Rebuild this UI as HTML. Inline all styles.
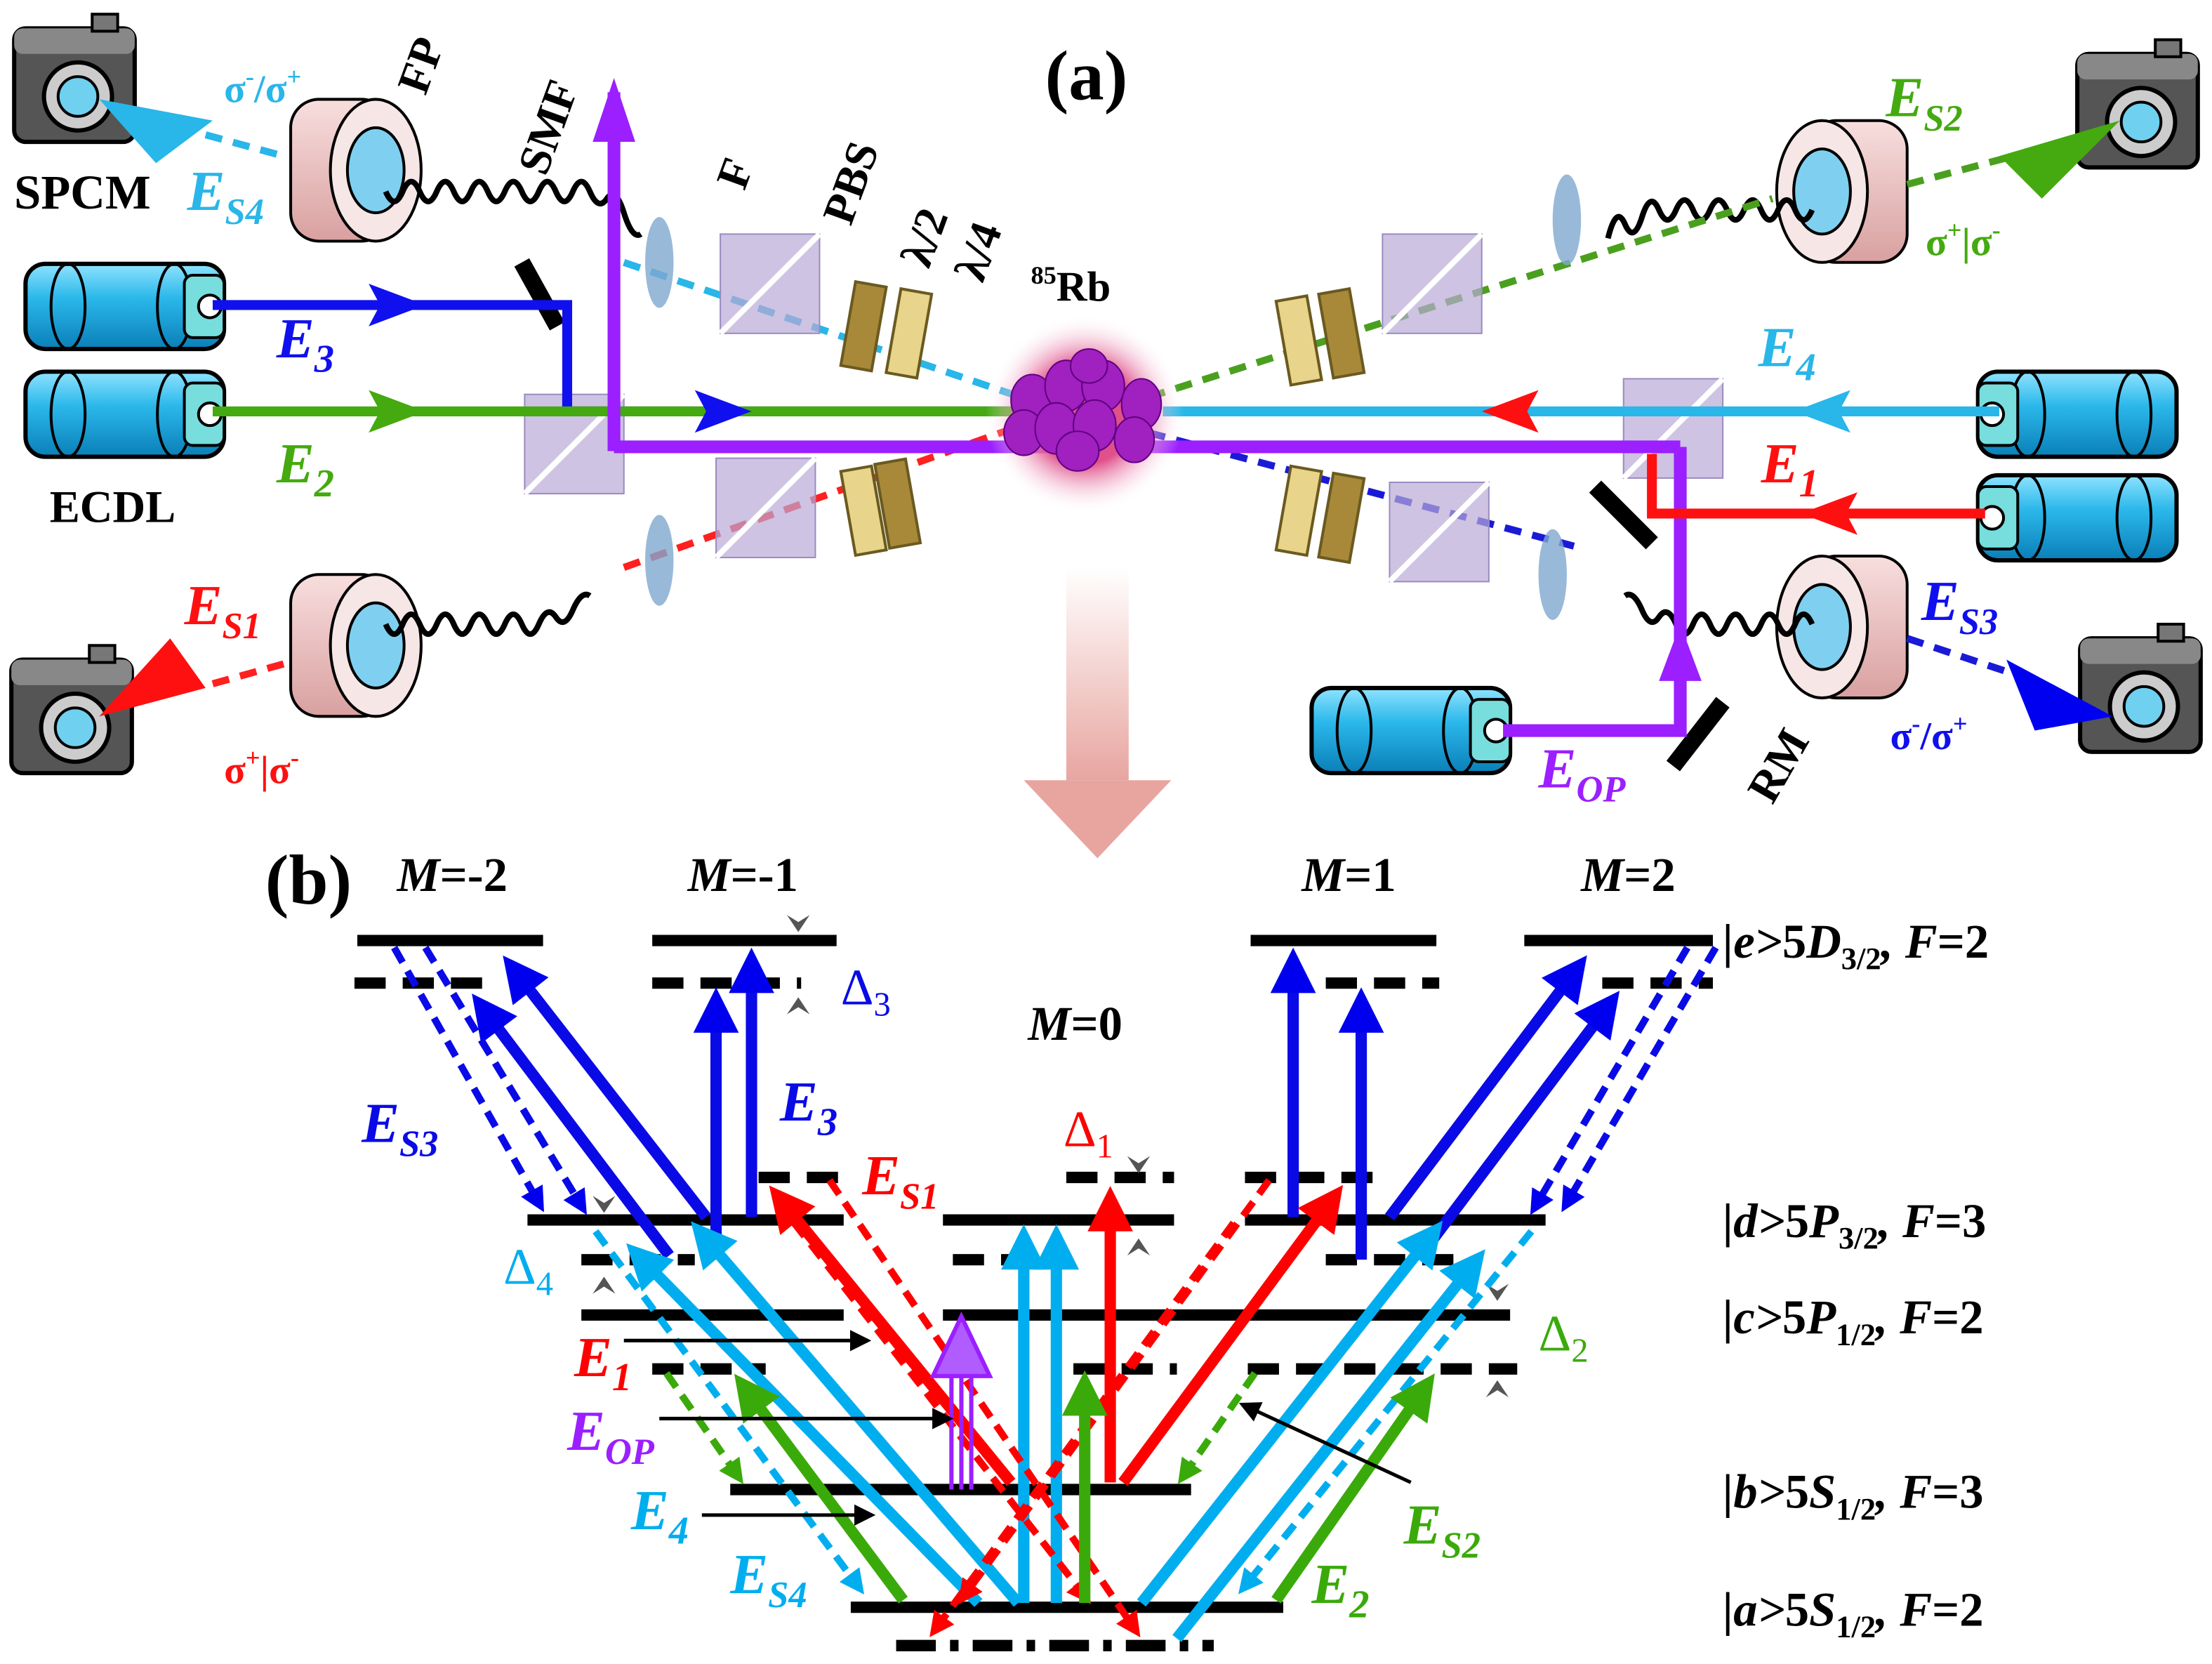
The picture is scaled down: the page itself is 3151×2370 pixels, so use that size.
<!DOCTYPE html>
<html><head><meta charset="utf-8"><style>
html,body{margin:0;padding:0;background:#fff;}
svg{display:block;}
text{font-family:"Liberation Serif",serif;font-weight:bold;}
</style></head><body>
<svg width="3151" height="2370" viewBox="0 0 1560 1173" preserveAspectRatio="none" xmlns="http://www.w3.org/2000/svg">
<defs>
<marker id="ab" markerWidth="4" markerHeight="4" refX="2.5" refY="2" orient="auto" markerUnits="strokeWidth"><path d="M0,0 L4,2 L0,4 Z" fill="#0000ee"/></marker>
<marker id="ac" markerWidth="4" markerHeight="4" refX="2.5" refY="2" orient="auto" markerUnits="strokeWidth"><path d="M0,0 L4,2 L0,4 Z" fill="#00aeef"/></marker>
<marker id="ar" markerWidth="4" markerHeight="4" refX="2.5" refY="2" orient="auto" markerUnits="strokeWidth"><path d="M0,0 L4,2 L0,4 Z" fill="#ff0000"/></marker>
<marker id="ag" markerWidth="4" markerHeight="4" refX="2.5" refY="2" orient="auto" markerUnits="strokeWidth"><path d="M0,0 L4,2 L0,4 Z" fill="#3aaa0a"/></marker>
<marker id="ak" markerWidth="6" markerHeight="6" refX="5" refY="3" orient="auto" markerUnits="strokeWidth"><path d="M0,0 L6,3 L0,6 Z" fill="#000"/></marker>
<marker id="abd" markerWidth="3.5" markerHeight="3.5" refX="2" refY="1.75" orient="auto" markerUnits="strokeWidth"><path d="M0,0 L3.5,1.75 L0,3.5 Z" fill="#0000ee"/></marker>
<marker id="acd" markerWidth="3.5" markerHeight="3.5" refX="2" refY="1.75" orient="auto" markerUnits="strokeWidth"><path d="M0,0 L3.5,1.75 L0,3.5 Z" fill="#00aeef"/></marker>
<marker id="ard" markerWidth="3.5" markerHeight="3.5" refX="2" refY="1.75" orient="auto" markerUnits="strokeWidth"><path d="M0,0 L3.5,1.75 L0,3.5 Z" fill="#ff0000"/></marker>
<marker id="agd" markerWidth="3.5" markerHeight="3.5" refX="2" refY="1.75" orient="auto" markerUnits="strokeWidth"><path d="M0,0 L3.5,1.75 L0,3.5 Z" fill="#3aaa0a"/></marker>
<linearGradient id="cyl" x1="0" y1="0" x2="0" y2="1"><stop offset="0" stop-color="#8fe3ff"/><stop offset=".4" stop-color="#2bb8ea"/><stop offset="1" stop-color="#0a7fb8"/></linearGradient>
<linearGradient id="fp" x1="0" y1="0" x2="0" y2="1"><stop offset="0" stop-color="#f8dede"/><stop offset="1" stop-color="#d9a0a0"/></linearGradient>
<linearGradient id="pk" x1="0" y1="0" x2="0" y2="1"><stop offset="0" stop-color="#fff"/><stop offset="1" stop-color="#e8a5a0"/></linearGradient>
<radialGradient id="glow"><stop offset="0.5" stop-color="#e0508a"/><stop offset="1" stop-color="#fff" stop-opacity="0"/></radialGradient>
<g id="cam"><rect x="0" y="10" width="85" height="80" rx="8" fill="#555" stroke="#000" stroke-width="3"/><rect x="0" y="10" width="85" height="18" rx="6" fill="#888"/><circle cx="45" cy="58" r="24" fill="#ccc" stroke="#000" stroke-width="3"/><circle cx="45" cy="58" r="14" fill="#6fd0f0" stroke="#000" stroke-width="2"/><rect x="55" y="0" width="18" height="12" fill="#777" stroke="#000" stroke-width="2"/></g>
<g id="laser"><rect x="0" y="0" width="140" height="60" rx="14" fill="url(#cyl)" stroke="#000" stroke-width="3"/><ellipse cx="30" cy="30" rx="12" ry="30" fill="none" stroke="#000" stroke-width="2"/><ellipse cx="105" cy="30" rx="12" ry="30" fill="none" stroke="#000" stroke-width="2"/><rect x="112" y="8" width="28" height="44" rx="6" fill="#7dd" stroke="#000" stroke-width="2"/><circle cx="130" cy="30" r="8" fill="#fff" stroke="#000" stroke-width="2"/></g>
<g id="fpc"><rect x="0" y="0" width="70" height="100" rx="20" fill="url(#fp)" stroke="#000" stroke-width="2"/><ellipse cx="60" cy="50" rx="32" ry="50" fill="#f6e6e6" stroke="#000" stroke-width="2"/><ellipse cx="60" cy="50" rx="20" ry="30" fill="#7fd0f0" stroke="#000" stroke-width="2"/></g>
<g id="cube"><rect x="0" y="0" width="70" height="70" fill="#b9a9d6" fill-opacity=".7" stroke="#9a8cc0"/><line x1="0" y1="70" x2="70" y2="0" stroke="#fff" stroke-width="4"/></g>
</defs>

<text x="737" y="70" font-size="50">(a)</text>
<use href="#cam" x="10" y="10"/>
<use href="#cam" x="8" y="455"/>
<use href="#cam" x="1465" y="28"/>
<use href="#cam" x="1467" y="440"/>
<text x="10" y="147" font-size="34">SPCM</text>
<text x="35" y="368" font-size="32">ECDL</text>

<use href="#laser" x="18" y="186"/>
<use href="#laser" x="18" y="262"/>
<use href="#laser" transform="translate(1535,262) scale(-1,1)"/>
<use href="#laser" transform="translate(1535,335) scale(-1,1)"/>
<use href="#laser" x="925" y="485"/>

<use href="#fpc" x="205" y="70"/>
<use href="#fpc" x="205" y="405"/>
<use href="#fpc" transform="translate(1345,85) scale(-1,1)"/>
<use href="#fpc" transform="translate(1345,392) scale(-1,1)"/>

<g fill="none" stroke="#000" stroke-width="4">
<path d="M272,135 q6,14 12,0 t12,0 t12,0 t12,0 t12,0 t12,0 t12,0 t12,0 t12,0 t12,0 t12,0 t12,0 t12,5 t12,10 t12,15"/>
<path d="M272,440 q6,14 12,0 t12,0 t12,0 t12,0 t12,0 t12,0 t12,0 t12,0 t12,0 t12,-5 t12,-5 t12,-10"/>
<path d="M1278,148 q-6,14 -12,0 t-12,0 t-12,0 t-12,0 t-12,0 t-12,0 t-12,0 t-12,0 t-12,0 t-12,5 t-12,5 t-12,10"/>
<path d="M1278,440 q-6,-14 -12,0 t-12,0 t-12,0 t-12,0 t-12,0 t-12,0 t-12,0 t-12,0 t-12,-5 t-12,-5 t-12,-10"/>
</g>

<g fill="none" stroke-width="5" stroke-dasharray="12,8">
<line x1="440" y1="185" x2="720" y2="280" stroke="#29b6e8"/>
<line x1="810" y1="280" x2="1250" y2="140" stroke="#4aa01e"/>
<line x1="440" y1="400" x2="720" y2="300" stroke="#ff2020"/>
<line x1="810" y1="305" x2="1110" y2="385" stroke="#1a1ad6"/>
<line x1="145" y1="95" x2="200" y2="110" stroke="#29b6e8"/>
<line x1="1345" y1="130" x2="1420" y2="110" stroke="#4aa01e"/>
<line x1="150" y1="482" x2="200" y2="468" stroke="#ff2020"/>
<line x1="1345" y1="450" x2="1420" y2="475" stroke="#1a1ad6"/>
</g>
<path d="M150,85 L70,70 L110,115 Z" fill="#29b6e8"/>
<path d="M1410,110 L1495,85 L1440,140 Z" fill="#44aa0f"/>
<path d="M145,485 L70,505 L120,450 Z" fill="#ff1010"/>
<path d="M1415,465 L1490,505 L1435,515 Z" fill="#0000f0"/>

<g fill="#7fa7cf" fill-opacity=".8">
<ellipse cx="465" cy="185" rx="10" ry="32"/>
<ellipse cx="465" cy="395" rx="10" ry="32"/>
<ellipse cx="1105" cy="155" rx="10" ry="32"/>
<ellipse cx="1095" cy="405" rx="10" ry="32"/>
</g>
<use href="#cube" x="508" y="165"/>
<use href="#cube" x="505" y="323"/>
<use href="#cube" x="975" y="165"/>
<use href="#cube" x="980" y="340"/>
<use href="#cube" x="370" y="278"/>
<use href="#cube" x="1145" y="267"/>
<g stroke="#6b5a20" stroke-width="2">
<rect x="598" y="200" width="22" height="60" fill="#a8893a" transform="rotate(10 609 230)"/>
<rect x="630" y="205" width="22" height="60" fill="#e8d48a" transform="rotate(10 641 235)"/>
<rect x="598" y="330" width="22" height="60" fill="#e8d48a" transform="rotate(-10 609 360)"/>
<rect x="622" y="325" width="22" height="60" fill="#a8893a" transform="rotate(-10 633 355)"/>
<rect x="905" y="210" width="22" height="60" fill="#e8d48a" transform="rotate(-10 916 240)"/>
<rect x="935" y="205" width="22" height="60" fill="#a8893a" transform="rotate(-10 946 235)"/>
<rect x="905" y="330" width="22" height="60" fill="#e8d48a" transform="rotate(10 916 360)"/>
<rect x="935" y="335" width="22" height="60" fill="#a8893a" transform="rotate(10 946 365)"/>
</g>
<g stroke="#000" stroke-width="12">
<line x1="368" y1="185" x2="393" y2="230"/>
<line x1="1125" y1="343" x2="1165" y2="383"/>
<line x1="1180" y1="540" x2="1215" y2="495"/>
</g>

<g fill="none" stroke-width="7">
<polyline points="150,215 400,215 400,290" stroke="#1010ee"/>
<line x1="400" y1="290" x2="720" y2="290" stroke="#1010ee"/>
<line x1="150" y1="290" x2="720" y2="290" stroke="#44aa0f"/>
<line x1="433" y1="65" x2="433" y2="318" stroke="#9b1fff" stroke-width="9"/>
<line x1="433" y1="315" x2="1185" y2="315" stroke="#9b1fff" stroke-width="9"/>
<polyline points="1060,515 1185,515 1185,315" stroke="#9b1fff" stroke-width="9"/>
<line x1="1410" y1="290" x2="820" y2="290" stroke="#29b6e8"/>
<polyline points="1400,362 1165,362 1165,320" stroke="#ff1010"/>
</g>
<path d="M433,55 L418,100 L448,100 Z" fill="#9b1fff"/>
<path d="M1185,440 L1170,480 L1200,480 Z" fill="#9b1fff"/>
<path d="M300,215 L260,200 L268,215 L260,230 Z" fill="#1010ee"/>
<path d="M300,290 L260,275 L268,290 L260,305 Z" fill="#44aa0f"/>
<path d="M530,290 L490,275 L498,290 L490,305 Z" fill="#1010ee"/>
<path d="M1265,290 L1305,275 L1297,290 L1305,305 Z" fill="#29b6e8"/>
<path d="M1270,362 L1310,347 L1302,362 L1310,377 Z" fill="#ff1010"/>
<path d="M1045,290 L1085,275 L1077,290 L1085,305 Z" fill="#ff1010"/>

<circle cx="765" cy="292" r="70" fill="url(#glow)"/>
<g fill="#a020c0" stroke="#600080" stroke-width="1">
<ellipse cx="728" cy="282" rx="15" ry="18"/><ellipse cx="752" cy="272" rx="15" ry="18"/><ellipse cx="778" cy="272" rx="15" ry="18"/><ellipse cx="805" cy="285" rx="14" ry="18"/>
<ellipse cx="722" cy="305" rx="14" ry="16"/><ellipse cx="745" cy="302" rx="15" ry="18"/><ellipse cx="772" cy="300" rx="15" ry="18"/><ellipse cx="800" cy="310" rx="14" ry="16"/>
<ellipse cx="760" cy="318" rx="15" ry="14"/><ellipse cx="768" cy="258" rx="13" ry="12"/>
</g>
<text x="727" y="212" font-size="30"><tspan font-size="18" dy="-12">85</tspan><tspan dy="12">Rb</tspan></text>

<rect x="752" y="400" width="44" height="150" fill="url(#pk)"/>
<path d="M722,550 L826,550 L774,605 Z" fill="#e8a5a0"/>

<g font-size="32">
<text transform="translate(300,68) rotate(-70)">FP</text>
<text transform="translate(385,125) rotate(-70)">SMF</text>
<text transform="translate(525,135) rotate(-70)">F</text>
<text transform="translate(600,160) rotate(-70)">PBS</text>
<text transform="translate(655,190) rotate(-70)">λ/2</text>
<text transform="translate(693,200) rotate(-70)">λ/4</text>
<text transform="translate(1250,568) rotate(-60)">RM</text>
</g>
<g font-style="italic" font-size="40">
<text x="195" y="252" fill="#1010ee">E<tspan font-size="28" dy="10">3</tspan></text>
<text x="195" y="340" fill="#44aa0f">E<tspan font-size="28" dy="10">2</tspan></text>
<text x="1240" y="258" fill="#29b6e8">E<tspan font-size="28" dy="10">4</tspan></text>
<text x="1242" y="340" fill="#ff1010">E<tspan font-size="28" dy="10">1</tspan></text>
<text x="1085" y="555" fill="#9b1fff">E<tspan font-size="26" dy="10">OP</tspan></text>
<text x="132" y="148" fill="#29b6e8">E<tspan font-size="26" dy="10">S4</tspan></text>
<text x="1330" y="82" fill="#44aa0f">E<tspan font-size="26" dy="10">S2</tspan></text>
<text x="130" y="440" fill="#ff1010">E<tspan font-size="26" dy="10">S1</tspan></text>
<text x="1355" y="437" fill="#1010ee">E<tspan font-size="26" dy="10">S3</tspan></text>
</g>
<g font-size="28">
<text x="158" y="72" fill="#29b6e8">σ<tspan font-size="18" dy="-12">-</tspan><tspan dy="12">/σ</tspan><tspan font-size="18" dy="-12">+</tspan></text>
<text x="1358" y="180" fill="#44aa0f">σ<tspan font-size="18" dy="-12">+</tspan><tspan dy="12">|σ</tspan><tspan font-size="18" dy="-12">-</tspan></text>
<text x="158" y="552" fill="#ff1010">σ<tspan font-size="18" dy="-12">+</tspan><tspan dy="12">|σ</tspan><tspan font-size="18" dy="-12">-</tspan></text>
<text x="1333" y="528" fill="#1010ee">σ<tspan font-size="18" dy="-12">-</tspan><tspan dy="12">/σ</tspan><tspan font-size="18" dy="-12">+</tspan></text>
</g>

<text x="187" y="637" font-size="50">(b)</text>
<g font-size="34" font-style="italic">
<text x="280" y="628">M<tspan font-style="normal">=-2</tspan></text>
<text x="485" y="628">M<tspan font-style="normal">=-1</tspan></text>
<text x="918" y="628">M<tspan font-style="normal">=1</tspan></text>
<text x="1115" y="628">M<tspan font-style="normal">=2</tspan></text>
<text x="725" y="733">M<tspan font-style="normal">=0</tspan></text>
</g>
<g font-size="34" font-style="italic">
<text x="1215" y="675">|e&gt;<tspan font-style="normal">5</tspan>D<tspan font-size="22" dy="8" font-style="normal">3/2</tspan><tspan dy="-8">, F</tspan><tspan font-style="normal">=2</tspan></text>
<text x="1215" y="872">|d&gt;<tspan font-style="normal">5</tspan>P<tspan font-size="22" dy="8" font-style="normal">3/2</tspan><tspan dy="-8">, F</tspan><tspan font-style="normal">=3</tspan></text>
<text x="1215" y="940">|c&gt;<tspan font-style="normal">5</tspan>P<tspan font-size="22" dy="8" font-style="normal">1/2</tspan><tspan dy="-8">, F</tspan><tspan font-style="normal">=2</tspan></text>
<text x="1215" y="1063">|b&gt;<tspan font-style="normal">5</tspan>S<tspan font-size="22" dy="8" font-style="normal">1/2</tspan><tspan dy="-8">, F</tspan><tspan font-style="normal">=3</tspan></text>
<text x="1215" y="1146">|a&gt;<tspan font-style="normal">5</tspan>S<tspan font-size="22" dy="8" font-style="normal">1/2</tspan><tspan dy="-8">, F</tspan><tspan font-style="normal">=2</tspan></text>
</g>

<g stroke="#000" stroke-width="8">
<line x1="252" y1="663" x2="383" y2="663"/><line x1="460" y1="663" x2="590" y2="663"/>
<line x1="882" y1="663" x2="1013" y2="663"/><line x1="1075" y1="663" x2="1208" y2="663"/>
<line x1="372" y1="860" x2="595" y2="860"/><line x1="665" y1="860" x2="828" y2="860"/><line x1="878" y1="860" x2="1090" y2="860"/>
<line x1="410" y1="927" x2="595" y2="927"/><line x1="665" y1="927" x2="1065" y2="927"/>
<line x1="515" y1="1050" x2="840" y2="1050"/>
<line x1="600" y1="1133" x2="905" y2="1133"/>
</g>
<g stroke="#000" stroke-width="8" stroke-dasharray="22,12">
<line x1="250" y1="693" x2="345" y2="693"/><line x1="460" y1="693" x2="565" y2="693"/>
<line x1="935" y1="693" x2="1015" y2="693"/><line x1="1130" y1="693" x2="1208" y2="693"/>
<line x1="535" y1="830" x2="600" y2="830"/><line x1="752" y1="830" x2="828" y2="830"/><line x1="878" y1="830" x2="975" y2="830"/>
<line x1="410" y1="888" x2="490" y2="888"/><line x1="672" y1="888" x2="745" y2="888"/><line x1="935" y1="888" x2="1035" y2="888"/>
<line x1="460" y1="965" x2="540" y2="965"/><line x1="757" y1="965" x2="830" y2="965"/><line x1="880" y1="965" x2="1070" y2="965"/>
</g>
<g stroke="#000" stroke-width="8" stroke-dasharray="28,10,6,10">
<line x1="632" y1="1160" x2="856" y2="1160"/>
</g>

<g fill="#555">
<path d="M555,645 l8,12 l8,-12 l-8,5 z"/><path d="M555,715 l8,-12 l8,12 l-8,-5 z"/>
<path d="M795,815 l8,12 l8,-12 l-8,5 z"/><path d="M795,885 l8,-12 l8,12 l-8,-5 z"/>
<path d="M418,843 l8,12 l8,-12 l-8,5 z"/><path d="M418,912 l8,-12 l8,12 l-8,-5 z"/>
<path d="M1048,905 l8,12 l8,-12 l-8,5 z"/><path d="M1048,985 l8,-12 l8,12 l-8,-5 z"/>
</g>

<g stroke="#0a0ae6" stroke-width="8" fill="none" marker-end="url(#ab)">
<line x1="498" y1="858" x2="362" y2="683"/>
<line x1="472" y1="885" x2="340" y2="710"/>
<line x1="505" y1="888" x2="505" y2="708"/>
<line x1="530" y1="858" x2="530" y2="680"/>
<line x1="912" y1="858" x2="912" y2="680"/>
<line x1="960" y1="888" x2="960" y2="708"/>
<line x1="980" y1="858" x2="1112" y2="683"/>
<line x1="1002" y1="885" x2="1135" y2="708"/>
</g>
<g stroke="#0a0ae6" stroke-width="5" stroke-dasharray="12,7" fill="none" marker-end="url(#abd)">
<line x1="278" y1="668" x2="380" y2="848"/>
<line x1="300" y1="668" x2="410" y2="850"/>
<line x1="1190" y1="668" x2="1083" y2="850"/>
<line x1="1210" y1="668" x2="1105" y2="848"/>
</g>
<g stroke="#00aeef" stroke-width="8" fill="none" marker-end="url(#ac)">
<line x1="690" y1="1130" x2="450" y2="885"/>
<line x1="718" y1="1130" x2="495" y2="870"/>
<line x1="722" y1="1130" x2="722" y2="875"/>
<line x1="745" y1="1130" x2="745" y2="875"/>
<line x1="805" y1="1130" x2="1010" y2="870"/>
<line x1="830" y1="1155" x2="1040" y2="890"/>
</g>
<g stroke="#00aeef" stroke-width="5" stroke-dasharray="12,7" fill="none" marker-end="url(#acd)">
<line x1="420" y1="868" x2="605" y2="1118"/>
<line x1="1080" y1="868" x2="878" y2="1118"/>
</g>
<g stroke="#ff0000" stroke-width="8" fill="none" marker-end="url(#ar)">
<line x1="713" y1="1045" x2="550" y2="845"/>
<line x1="783" y1="1045" x2="783" y2="848"/>
<line x1="792" y1="1045" x2="940" y2="845"/>
</g>
<g stroke="#ff0000" stroke-width="5" stroke-dasharray="12,7" fill="none" marker-end="url(#ard)">
<line x1="585" y1="832" x2="800" y2="1148"/>
<line x1="560" y1="862" x2="765" y2="1125"/>
<line x1="895" y1="832" x2="680" y2="1125"/>
<line x1="870" y1="862" x2="660" y2="1148"/>
</g>
<g stroke="#3aaa0a" stroke-width="8" fill="none" marker-end="url(#ag)">
<line x1="637" y1="1128" x2="525" y2="978"/>
<line x1="765" y1="1130" x2="765" y2="978"/>
<line x1="900" y1="1128" x2="1005" y2="978"/>
</g>
<g stroke="#3aaa0a" stroke-width="5" stroke-dasharray="12,7" fill="none" marker-end="url(#agd)">
<line x1="470" y1="968" x2="520" y2="1040"/>
<line x1="885" y1="968" x2="835" y2="1040"/>
</g>
<g stroke="#9b1fff" stroke-width="3" fill="none">
<line x1="671" y1="1050" x2="671" y2="965"/><line x1="678" y1="1050" x2="678" y2="965"/><line x1="685" y1="1050" x2="685" y2="965"/>
</g>
<path d="M678,928 L658,970 L698,970 Z" fill="#b05cff" stroke="#9b1fff" stroke-width="3"/>
<g stroke="#000" stroke-width="2.5" marker-end="url(#ak)">
<line x1="440" y1="945" x2="612" y2="945"/>
<line x1="465" y1="1000" x2="670" y2="1000"/>
<line x1="495" y1="1068" x2="615" y2="1068"/>
<line x1="995" y1="1045" x2="876" y2="990"/>
</g>

<g font-style="italic" font-size="40">
<text x="255" y="805" fill="#0a0ae6">E<tspan font-size="26" dy="10">S3</tspan></text>
<text x="550" y="790" fill="#0a0ae6">E<tspan font-size="28" dy="10">3</tspan></text>
<text x="608" y="842" fill="#ff0000">E<tspan font-size="26" dy="10">S1</tspan></text>
<text x="405" y="970" fill="#ff0000">E<tspan font-size="28" dy="10">1</tspan></text>
<text x="400" y="1022" fill="#9b1fff">E<tspan font-size="26" dy="10">OP</tspan></text>
<text x="445" y="1078" fill="#00aeef">E<tspan font-size="28" dy="10">4</tspan></text>
<text x="515" y="1123" fill="#00aeef">E<tspan font-size="26" dy="10">S4</tspan></text>
<text x="990" y="1088" fill="#3aaa0a">E<tspan font-size="26" dy="10">S2</tspan></text>
<text x="925" y="1130" fill="#3aaa0a">E<tspan font-size="28" dy="10">2</tspan></text>
</g>
<g font-size="36">
<text x="593" y="708" fill="#0a0ae6" style="font-weight:normal">Δ<tspan font-size="24" dy="8">3</tspan></text>
<text x="750" y="808" fill="#ff0000" style="font-weight:normal">Δ<tspan font-size="24" dy="8">1</tspan></text>
<text x="355" y="905" fill="#00aeef" style="font-weight:normal">Δ<tspan font-size="24" dy="8">4</tspan></text>
<text x="1085" y="952" fill="#3aaa0a" style="font-weight:normal">Δ<tspan font-size="24" dy="8">2</tspan></text>
</g>
</svg>
</body></html>
